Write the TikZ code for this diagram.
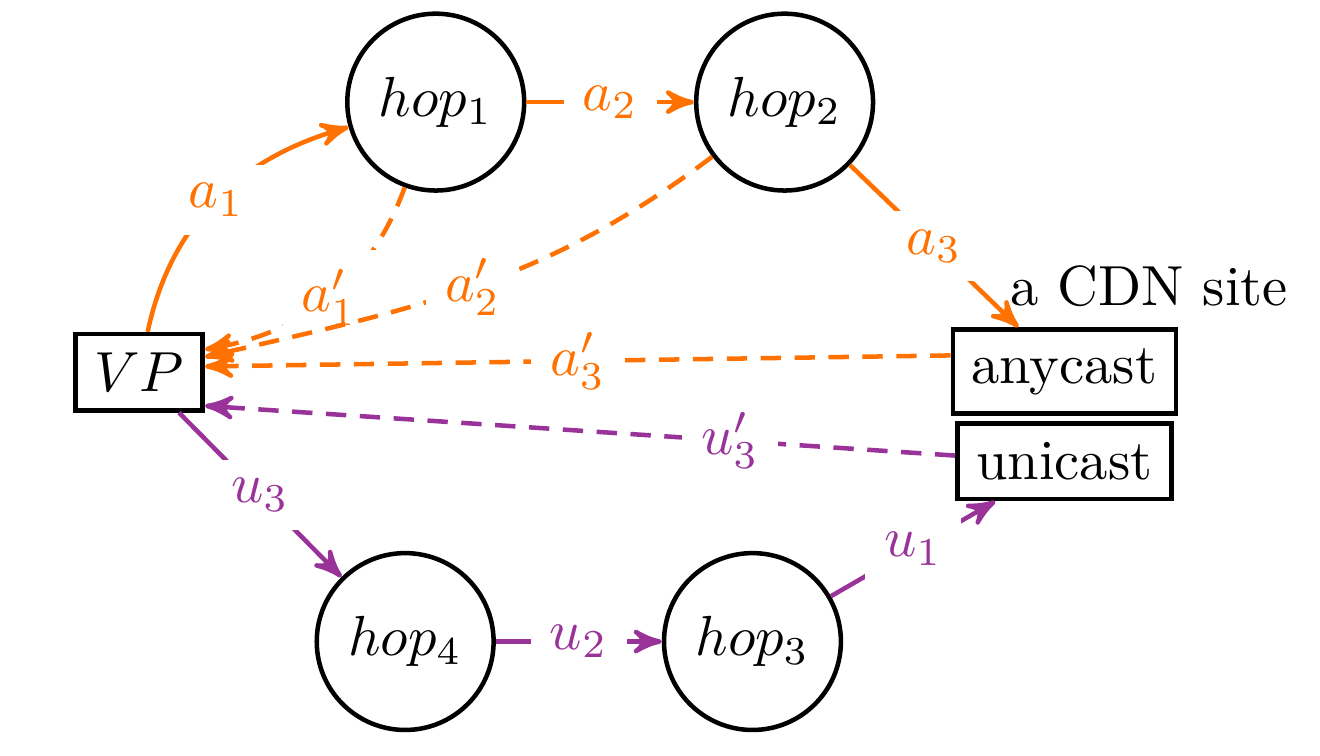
\documentclass[tikz,border=0pt]{standalone}
\usetikzlibrary{positioning,arrows}
\definecolor{anyorange}{RGB}{255,113,0}
\definecolor{unipurple}{RGB}{153,51,153}

\begin{document}
\begin{tikzpicture}[hop/.style={circle, draw, thick, minimum size=1.1cm},
                    site/.style={rectangle, draw, thick},
                    lbl/.style={fill=white},
                    apath/.style={anyorange, thick, ->, >=stealth'},
                    upath/.style={unipurple, thick, ->, >=stealth'},
                    back/.style={dash pattern=on 3.6pt off 2.4pt}]
            \useasboundingbox (0,0) rectangle (8.21,-4.70);

            % Draw the hops
            \node[hop] (h1) at (2.71,-0.635) {$hop_1$};
            \node[hop] (h2) at (4.88,-0.635) {$hop_2$};
            \node[hop] (h4) at (2.52,-3.99) {$hop_4$};
            \node[hop] (h3) at (4.68,-3.99) {$hop_3$};

            % Draw the vantage point and the CDN site
            \node[site] (vp) at (0.865,-2.315) {$VP$};
            \node[site] (any) at (6.62,-2.31) {anycast};
            \node[site, below=1pt of any] (uni) {unicast};
            \node[anchor=south west] (cdn) at ([xshift=0.25cm]any.north west) {a CDN site};

            % Anycast path
            \draw[apath] (vp) to[out=78, in=196] node[lbl] {$a_1$} (h1);
            \draw[apath] (h1) -- node[lbl] {$a_2$} (h2);
            \draw[apath] (h2) -- node[lbl] {$a_3$} (any);
            \draw[apath, back] (h1) to[out=250, in=10] node[lbl] {$a'_1$} (vp.19);
            \draw[apath, back] (h2) to[out=217, in=13] node[lbl] {$a'_2$} (vp.13);
            \draw[apath, back] (any.172) -- node[lbl] {$a'_3$} (vp.5);

            % Unicast path
            \draw[upath] (vp) -- node[lbl] {$u_3$} (h4);
            \draw[upath] (h4) -- node[lbl] {$u_2$} (h3);
            \draw[upath] (h3) -- node[lbl] {$u_1$} (uni);
            \draw[upath, back] (uni.177) -- node[lbl, pos=0.3] {$u'_3$} (vp.-27);
        \end{tikzpicture}
\end{document}
